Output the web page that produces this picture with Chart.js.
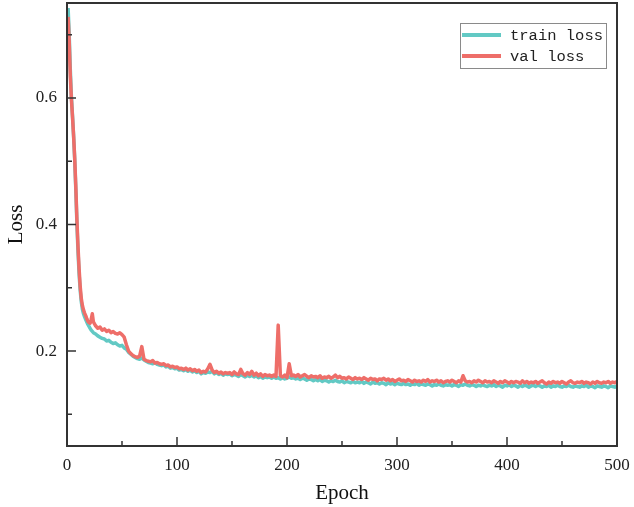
<!DOCTYPE html>
<html>
<head>
<meta charset="utf-8">
<script src="https://cdn.jsdelivr.net/npm/chart.js@4.4.1/dist/chart.umd.min.js"></script>
<style>
  body { margin: 0; background: #fff; }
  canvas { display: block; }
</style>
</head>
<body>
<canvas id="lossChart" width="634" height="507"></canvas>
<script>
// epochs sampled (every epoch at the start, every 2 epochs after)
const epochs = [
  1, 2, 3, 4, 5, 6, 7, 8, 9, 10, 11, 12, 13, 14, 15, 16, 17, 18, 19, 20, 21, 22, 23, 24,
  26, 28, 30, 32, 34, 36, 38, 40, 42, 44,
  46, 48, 50, 52, 54, 56, 58, 60, 62, 64,
  66, 68, 70, 72, 74, 76, 78, 80, 82, 84,
  86, 88, 90, 92, 94, 96, 98, 100, 102, 104,
  106, 108, 110, 112, 114, 116, 118, 120, 122, 124,
  126, 128, 130, 132, 134, 136, 138, 140, 142, 144,
  146, 148, 150, 152, 154, 156, 158, 160, 162, 164,
  166, 168, 170, 172, 174, 176, 178, 180, 182, 184,
  186, 188, 190, 192, 194, 196, 198, 200, 202, 204,
  206, 208, 210, 212, 214, 216, 218, 220, 222, 224,
  226, 228, 230, 232, 234, 236, 238, 240, 242, 244,
  246, 248, 250, 252, 254, 256, 258, 260, 262, 264,
  266, 268, 270, 272, 274, 276, 278, 280, 282, 284,
  286, 288, 290, 292, 294, 296, 298, 300, 302, 304,
  306, 308, 310, 312, 314, 316, 318, 320, 322, 324,
  326, 328, 330, 332, 334, 336, 338, 340, 342, 344,
  346, 348, 350, 352, 354, 356, 358, 360, 362, 364,
  366, 368, 370, 372, 374, 376, 378, 380, 382, 384,
  386, 388, 390, 392, 394, 396, 398, 400, 402, 404,
  406, 408, 410, 412, 414, 416, 418, 420, 422, 424,
  426, 428, 430, 432, 434, 436, 438, 440, 442, 444,
  446, 448, 450, 452, 454, 456, 458, 460, 462, 464,
  466, 468, 470, 472, 474, 476, 478, 480, 482, 484,
  486, 488, 490, 492, 494, 496, 498, 500
];

const trainLoss = [
  0.742, 0.700, 0.645, 0.602, 0.572, 0.540, 0.503, 0.456, 0.402, 0.358, 0.322, 0.296,
  0.278, 0.266, 0.259, 0.254, 0.250, 0.246, 0.242, 0.239, 0.236, 0.233, 0.231, 0.229,
  0.227, 0.224, 0.222, 0.220, 0.219, 0.216, 0.217, 0.214, 0.212, 0.213,
  0.210, 0.208, 0.209, 0.205, 0.203, 0.198, 0.195, 0.192, 0.190, 0.188,
  0.187, 0.189, 0.186, 0.184, 0.182, 0.181, 0.180, 0.182, 0.179, 0.178,
  0.177, 0.178, 0.175, 0.176, 0.173, 0.174, 0.172, 0.173, 0.170, 0.171,
  0.169, 0.171, 0.168, 0.170, 0.167, 0.169, 0.166, 0.168, 0.164, 0.166,
  0.165, 0.167, 0.166, 0.168, 0.164, 0.166, 0.163, 0.165, 0.162, 0.164,
  0.163, 0.164, 0.161, 0.163, 0.162, 0.160, 0.163, 0.161, 0.159, 0.162,
  0.160, 0.162, 0.159, 0.161, 0.158, 0.160, 0.157, 0.159, 0.158, 0.159,
  0.157, 0.159, 0.157, 0.158, 0.156, 0.158, 0.156, 0.157, 0.159, 0.157,
  0.158, 0.156, 0.157, 0.155, 0.157, 0.156, 0.154, 0.156, 0.155, 0.153,
  0.155, 0.153, 0.155, 0.152, 0.154, 0.153, 0.151, 0.153, 0.152, 0.154,
  0.152, 0.151, 0.153, 0.150, 0.152, 0.151, 0.150, 0.152, 0.150, 0.151,
  0.150, 0.152, 0.149, 0.151, 0.150, 0.148, 0.151, 0.149, 0.150, 0.148,
  0.150, 0.149, 0.147, 0.150, 0.148, 0.149, 0.147, 0.149, 0.148, 0.147,
  0.149, 0.147, 0.148, 0.146, 0.148, 0.147, 0.149, 0.146, 0.148, 0.147,
  0.146, 0.148, 0.147, 0.145, 0.147, 0.146, 0.148, 0.146, 0.145, 0.147,
  0.146, 0.147, 0.145, 0.147, 0.146, 0.144, 0.147, 0.146, 0.148, 0.146,
  0.145, 0.147, 0.146, 0.144, 0.146, 0.145, 0.147, 0.145, 0.144, 0.146,
  0.145, 0.147, 0.144, 0.146, 0.145, 0.143, 0.146, 0.145, 0.147, 0.144,
  0.146, 0.145, 0.143, 0.146, 0.144, 0.146, 0.145, 0.143, 0.145, 0.146,
  0.144, 0.146, 0.145, 0.143, 0.145, 0.144, 0.146, 0.143, 0.145, 0.144,
  0.146, 0.144, 0.143, 0.145, 0.144, 0.146, 0.144, 0.143, 0.145, 0.144,
  0.143, 0.145, 0.144, 0.146, 0.143, 0.145, 0.144, 0.142, 0.145, 0.144,
  0.143, 0.145, 0.144, 0.142, 0.145, 0.144, 0.143, 0.145
];

const valLoss = [
  0.728, 0.690, 0.635, 0.598, 0.570, 0.540, 0.505, 0.460, 0.408, 0.365, 0.330, 0.302,
  0.283, 0.272, 0.265, 0.260, 0.256, 0.251, 0.247, 0.245, 0.244, 0.250, 0.259, 0.246,
  0.240, 0.236, 0.238, 0.233, 0.235, 0.231, 0.233, 0.229, 0.231, 0.228,
  0.227, 0.229, 0.226, 0.222, 0.210, 0.200, 0.196, 0.193, 0.191, 0.190,
  0.192, 0.207, 0.187, 0.185, 0.184, 0.183, 0.185, 0.181, 0.182, 0.180,
  0.179, 0.180, 0.177, 0.178, 0.175, 0.176, 0.174, 0.175, 0.172, 0.173,
  0.171, 0.173, 0.170, 0.172, 0.169, 0.171, 0.168, 0.170, 0.166, 0.168,
  0.167, 0.172, 0.179, 0.170, 0.166, 0.168, 0.165, 0.167, 0.164, 0.166,
  0.165, 0.166, 0.163, 0.167, 0.164, 0.163, 0.171, 0.164, 0.162, 0.166,
  0.163, 0.168, 0.162, 0.165, 0.161, 0.164, 0.160, 0.163, 0.161, 0.162,
  0.160, 0.162, 0.160, 0.241, 0.161, 0.159, 0.162, 0.158, 0.180, 0.161,
  0.162, 0.160, 0.163, 0.159, 0.161, 0.163, 0.160, 0.158, 0.161, 0.159,
  0.160, 0.158, 0.161, 0.157, 0.159, 0.158, 0.160, 0.157, 0.159, 0.162,
  0.158, 0.160, 0.157, 0.158, 0.156, 0.159, 0.157, 0.155, 0.158, 0.156,
  0.157, 0.155, 0.158, 0.156, 0.154, 0.157, 0.155, 0.156, 0.153, 0.156,
  0.155, 0.157, 0.154, 0.156, 0.153, 0.155, 0.152, 0.154, 0.156, 0.153,
  0.154, 0.152, 0.155, 0.153, 0.151, 0.154, 0.152, 0.153, 0.151, 0.154,
  0.152, 0.155, 0.151, 0.153, 0.152, 0.154, 0.151, 0.153, 0.150, 0.152,
  0.153, 0.151, 0.154, 0.152, 0.150, 0.153, 0.151, 0.161, 0.153, 0.151,
  0.152, 0.150, 0.153, 0.151, 0.154, 0.152, 0.150, 0.153, 0.151, 0.152,
  0.150, 0.153, 0.151, 0.149, 0.152, 0.150, 0.153, 0.151, 0.149, 0.152,
  0.150, 0.152, 0.151, 0.149, 0.153, 0.150, 0.152, 0.149, 0.151, 0.150,
  0.152, 0.149, 0.151, 0.153, 0.150, 0.148, 0.151, 0.149, 0.152, 0.150,
  0.151, 0.149, 0.152, 0.150, 0.148, 0.151, 0.153, 0.150, 0.149, 0.151,
  0.150, 0.152, 0.149, 0.151, 0.150, 0.148, 0.151, 0.149, 0.152, 0.150,
  0.149, 0.151, 0.150, 0.152, 0.149, 0.151, 0.150, 0.152
];

const xTicks = [0, 100, 200, 300, 400, 500];
const xMinorTicks = [50, 150, 250, 350, 450];
const yTicks = [0.2, 0.4, 0.6];
const yMinorTicks = [0.1, 0.3, 0.5, 0.7];

const TEAL = '#62c9c4';
const RED = '#ee6e69';
const AXIS = '#333333';

// frame, inward ticks and the boxed legend inside the plot
const frameAndLegend = {
  id: 'frameAndLegend',
  afterDraw(chart) {
    const { ctx, chartArea: a, scales: { x, y } } = chart;
    ctx.save();
    ctx.strokeStyle = AXIS;
    ctx.lineWidth = 1.5;
    ctx.beginPath();
    xTicks.forEach(v => { const p = x.getPixelForValue(v); ctx.moveTo(p, a.bottom); ctx.lineTo(p, a.bottom - 9); });
    xMinorTicks.forEach(v => { const p = x.getPixelForValue(v); ctx.moveTo(p, a.bottom); ctx.lineTo(p, a.bottom - 5); });
    yTicks.forEach(v => { const p = y.getPixelForValue(v); ctx.moveTo(a.left, p); ctx.lineTo(a.left + 9, p); });
    yMinorTicks.forEach(v => { const p = y.getPixelForValue(v); ctx.moveTo(a.left, p); ctx.lineTo(a.left + 5, p); });
    ctx.stroke();
    ctx.lineWidth = 2;
    ctx.strokeRect(a.left, a.top, a.right - a.left, a.bottom - a.top);

    // legend
    const bx = a.right - 157, by = a.top + 20, bw = 146, bh = 45;
    ctx.fillStyle = '#fff';
    ctx.fillRect(bx, by, bw, bh);
    ctx.strokeStyle = '#8a8a8a';
    ctx.lineWidth = 1;
    ctx.strokeRect(bx + 0.5, by + 0.5, bw, bh);
    ctx.font = '15.5px "Liberation Mono", monospace';
    ctx.textBaseline = 'middle';
    chart.data.datasets.forEach((ds, i) => {
      const ly = by + 12 + i * 21;
      ctx.strokeStyle = ds.borderColor;
      ctx.lineWidth = 4;
      ctx.beginPath();
      ctx.moveTo(bx + 2, ly);
      ctx.lineTo(bx + 41, ly);
      ctx.stroke();
      ctx.fillStyle = '#222';
      ctx.fillText(ds.label, bx + 50, ly + 1);
    });
    ctx.restore();
  }
};

const ctx = document.getElementById('lossChart').getContext('2d');
const chart = new Chart(ctx, {
  type: 'line',
  data: {
    labels: epochs,
    datasets: [
      { label: 'train loss', data: trainLoss, borderColor: TEAL, borderWidth: 3.5, borderJoinStyle: 'round', pointRadius: 0, tension: 0, order: 1 },
      { label: 'val loss', data: valLoss, borderColor: RED, borderWidth: 3.5, borderJoinStyle: 'round', pointRadius: 0, tension: 0, order: 0 }
    ]
  },
  options: {
    responsive: false,
    animation: false,
    layout: { padding: { top: 3, right: 17, left: 0, bottom: 0 } },
    plugins: { legend: { display: false }, tooltip: { enabled: false } },
    scales: {
      x: {
        type: 'linear',
        min: 0,
        max: 500,
        afterBuildTicks: s => { s.ticks = xTicks.map(v => ({ value: v })); },
        afterFit: s => { s.height = 61; s.paddingLeft = 0; s.paddingRight = 0; },
        grid: { display: false, drawTicks: false },
        border: { display: false },
        ticks: { padding: 9, color: '#222', maxRotation: 0, font: { family: '"Liberation Serif", serif', size: 17 } },
        title: { display: true, text: 'Epoch', color: '#111', padding: { top: 0, bottom: 1 }, font: { family: '"Liberation Serif", serif', size: 21 } }
      },
      y: {
        min: 0.05,
        max: 0.75,
        afterBuildTicks: s => { s.ticks = yTicks.map(v => ({ value: v })); },
        afterFit: s => { s.width = 67; s.paddingTop = 0; s.paddingBottom = 0; },
        grid: { display: false, drawTicks: false },
        border: { display: false },
        ticks: { padding: 10, color: '#222', font: { family: '"Liberation Serif", serif', size: 17 }, callback: v => v.toFixed(1) },
        title: { display: true, text: 'Loss', color: '#111', padding: { top: 4, bottom: 0 }, font: { family: '"Liberation Serif", serif', size: 21 } }
      }
    }
  },
  plugins: [frameAndLegend]
});
</script>
</body>
</html>
